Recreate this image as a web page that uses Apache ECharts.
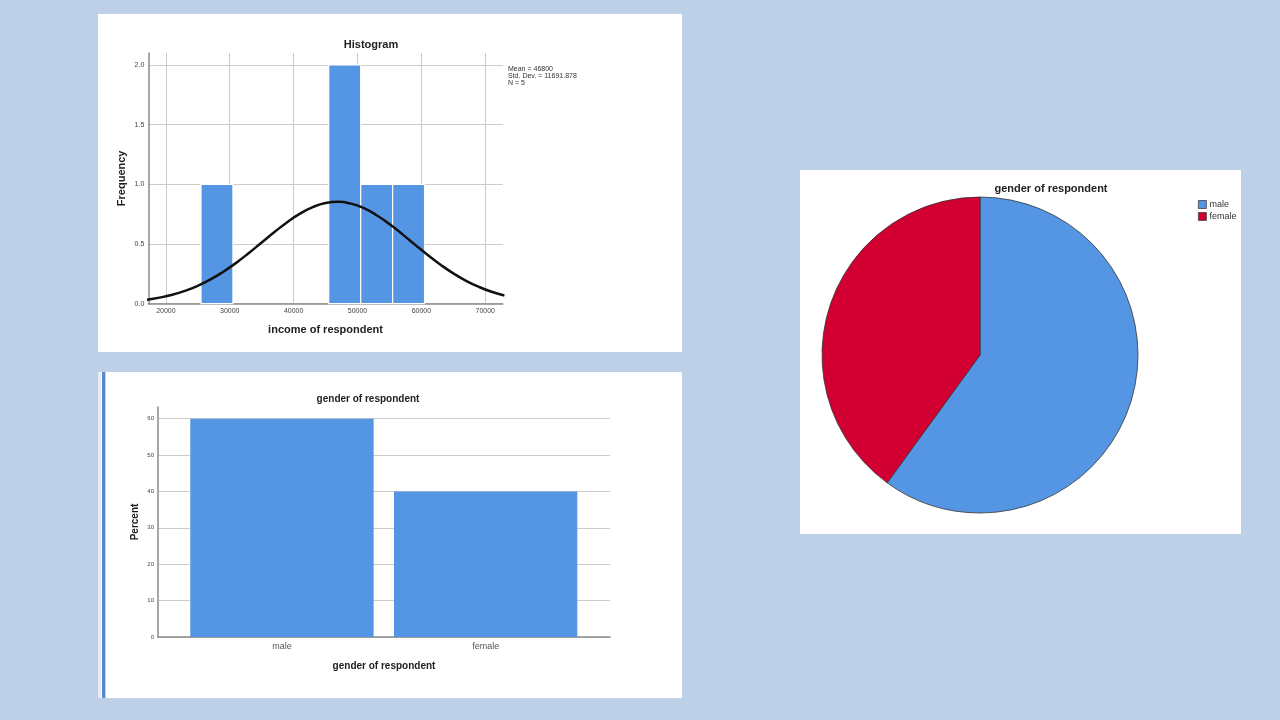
<!DOCTYPE html>
<html>
<head>
<meta charset="utf-8">
<script src="https://cdn.jsdelivr.net/npm/echarts@6/dist/echarts.min.js"></script>
<style>
  html, body { margin: 0; padding: 0; width: 1280px; height: 720px; background: #bdd0e8; overflow: hidden; }
  .panel { position: absolute; background: #ffffff; }
  #chart { position: absolute; left: 0; top: 0; width: 1280px; height: 720px; }
</style>
</head>
<body>
<div class="panel" style="left:98px;top:14px;width:584px;height:338px;"></div>
<div class="panel" style="left:98px;top:372px;width:584px;height:326px;"></div>
<div style="position:absolute;left:98px;top:372px;width:3px;height:326px;background:#e4ecf7;"></div>
<div style="position:absolute;left:101.5px;top:372px;width:3px;height:326px;background:#5a86cf;"></div>
<div style="position:absolute;left:104.5px;top:372px;width:1.5px;height:326px;background:#c2d4ee;"></div>
<div class="panel" style="left:800px;top:170px;width:441px;height:364px;"></div>
<div id="chart"></div>
<script>
// ---- Histogram data ----
const histBinStart = [25500, 45500, 50500, 55500];
const histBinEnd   = [30500, 50500, 55500, 60500];
const histFreq     = [1, 2, 1, 1];
const histXTicks   = [20000, 30000, 40000, 50000, 60000, 70000];
const histYTicks   = [0, 0.5, 1.0, 1.5, 2.0];
const curveX = [17000,19000,21000,23000,25000,27000,29000,31000,33000,35000,37000,39000,41000,43000,45000,47000,49000,51000,53000,55000,57000,59000,61000,63000,65000,67000,69000,71000,73000];
const curveY = [0.033,0.051,0.075,0.108,0.150,0.203,0.268,0.342,0.425,0.513,0.600,0.683,0.754,0.809,0.843,0.853,0.838,0.800,0.741,0.667,0.583,0.495,0.408,0.327,0.254,0.192,0.141,0.100,0.069];
const statsLines = ['Mean = 46800', 'Std. Dev. = 11691.878', 'N = 5'];

// ---- Gender bar data ----
const genderCats    = ['male', 'female'];
const genderPercent = [60, 40];
const barYTicks     = [0, 10, 20, 30, 40, 50, 60];

// ---- Gender pie data ----
const pieNames  = ['male', 'female'];
const pieValues = [3, 2];

const FONT = "'Liberation Sans', Arial, sans-serif";
const BLUE = '#5596e4';
const RED = '#d20032';
const GRID_C = '#cccccc';
const AXIS_C = '#8a8a8a';

const chart = echarts.init(document.getElementById('chart'), null, { renderer: 'canvas' });

const histData = histBinStart.map((s, i) => [s, histBinEnd[i], histFreq[i]]);
const curveData = curveX.map((x, i) => [x, curveY[i]]);

const option = {
  backgroundColor: 'transparent',
  animation: false,
  textStyle: { fontFamily: FONT },
  grid: [
    { left: 148.3, top: 53, width: 354.5, height: 250.7 },
    { left: 158, top: 407, width: 452, height: 230 },
    { left: 180.1, top: 407, width: 407.4, height: 230 }
  ],
  xAxis: [
    {
      gridIndex: 0, type: 'value', min: 17250, max: 72750,
      axisLine: { show: true, lineStyle: { color: AXIS_C, width: 1.5 } },
      axisTick: { show: false, customValues: histXTicks },
      axisLabel: { customValues: histXTicks, fontSize: 7, color: '#444', margin: 4, fontFamily: FONT,
                   formatter: v => String(Math.round(v)) },
      splitLine: { show: true, lineStyle: { color: GRID_C, width: 1 } },
      name: 'income of respondent', nameLocation: 'middle', nameGap: 21,
      nameTextStyle: { fontSize: 11, fontWeight: 'bold', color: '#222', fontFamily: FONT }
    },
    {
      gridIndex: 1, type: 'value', min: 0, max: 1,
      axisLine: { show: true, lineStyle: { color: AXIS_C, width: 1.5 } },
      axisTick: { show: false }, axisLabel: { show: false }, splitLine: { show: false },
      name: 'gender of respondent', nameLocation: 'middle', nameGap: 24,
      nameTextStyle: { fontSize: 10, fontWeight: 'bold', color: '#222', fontFamily: FONT }
    },
    {
      gridIndex: 2, type: 'category', data: genderCats,
      axisLine: { show: false }, axisTick: { show: false },
      axisLabel: { fontSize: 9, color: '#555', margin: 5, fontFamily: FONT },
      splitLine: { show: false }
    }
  ],
  yAxis: [
    {
      gridIndex: 0, type: 'value', min: 0, max: 2.1,
      axisLine: { show: true, lineStyle: { color: AXIS_C, width: 1.5 } },
      axisTick: { show: false, customValues: histYTicks },
      axisLabel: { customValues: histYTicks, fontSize: 7, color: '#444', margin: 4, fontFamily: FONT,
                   formatter: v => Number(v).toFixed(1) },
      splitLine: { show: true, lineStyle: { color: GRID_C, width: 1 } },
      name: 'Frequency', nameLocation: 'middle', nameGap: 21,
      nameTextStyle: { fontSize: 11, fontWeight: 'bold', color: '#222', fontFamily: FONT }
    },
    {
      gridIndex: 1, type: 'value', min: 0, max: 63.2,
      axisLine: { show: true, lineStyle: { color: AXIS_C, width: 1.5 } },
      axisTick: { show: false, customValues: barYTicks },
      axisLabel: { customValues: barYTicks, fontSize: 6, color: '#444', margin: 4, fontFamily: FONT },
      splitLine: { show: true, lineStyle: { color: GRID_C, width: 1 } },
      name: 'Percent', nameLocation: 'middle', nameGap: 18,
      nameTextStyle: { fontSize: 10, fontWeight: 'bold', color: '#222', fontFamily: FONT }
    },
    {
      gridIndex: 2, type: 'value', min: 0, max: 63.2, show: false
    }
  ],
  legend: {
    orient: 'vertical', left: 1193, top: 195, itemWidth: 8, itemHeight: 8, itemGap: 3,
    icon: 'rect', data: pieNames,
    textStyle: { fontSize: 9, color: '#333', fontFamily: FONT, padding: [0, 0, 0, -2] },
    itemStyle: { borderColor: '#444', borderWidth: 0.8 }
  },
  graphic: [
    { type: 'text', x: 371, y: 45, style: { text: 'Histogram', font: 'bold 11px ' + FONT, fill: '#222', textAlign: 'center', textVerticalAlign: 'middle', align: 'center', verticalAlign: 'middle' } },
    { type: 'text', x: 508, y: 66, style: { text: statsLines.join('\n'), font: '7px ' + FONT, fill: '#333', lineHeight: 7, textAlign: 'left', textVerticalAlign: 'top', align: 'left', verticalAlign: 'top' } },
    { type: 'text', x: 368, y: 399, style: { text: 'gender of respondent', font: 'bold 10px ' + FONT, fill: '#222', textAlign: 'center', textVerticalAlign: 'middle', align: 'center', verticalAlign: 'middle' } },
    { type: 'text', x: 1051, y: 189, style: { text: 'gender of respondent', font: 'bold 11px ' + FONT, fill: '#222', textAlign: 'center', textVerticalAlign: 'middle', align: 'center', verticalAlign: 'middle' } }
  ],
  series: [
    {
      type: 'custom', xAxisIndex: 0, yAxisIndex: 0, data: histData,
      encode: { x: [0, 1], y: 2 },
      renderItem: function (params, api) {
        const p0 = api.coord([api.value(0), api.value(2)]);
        const p1 = api.coord([api.value(1), 0]);
        return {
          type: 'rect',
          shape: { x: p0[0], y: p0[1], width: p1[0] - p0[0], height: p1[1] - p0[1] },
          style: { fill: BLUE, stroke: '#ffffff', lineWidth: 1.2 }
        };
      },
      z: 2
    },
    {
      type: 'line', xAxisIndex: 0, yAxisIndex: 0, data: curveData, smooth: true,
      showSymbol: false, symbol: 'none', clip: true,
      lineStyle: { color: '#111', width: 2.5 }, z: 3
    },
    {
      type: 'bar', xAxisIndex: 2, yAxisIndex: 2, data: genderPercent, barWidth: '90%',
      itemStyle: { color: BLUE }
    },
    {
      type: 'pie', center: [980, 355], radius: 158, startAngle: 90, clockwise: true,
      data: pieNames.map((n, i) => ({ name: n, value: pieValues[i], itemStyle: { color: i === 0 ? BLUE : RED } })),
      label: { show: false }, labelLine: { show: false },
      itemStyle: { borderColor: '#333', borderWidth: 0.8 },
      emphasis: { disabled: true }
    }
  ]
};
chart.setOption(option);
</script>
</body>
</html>
